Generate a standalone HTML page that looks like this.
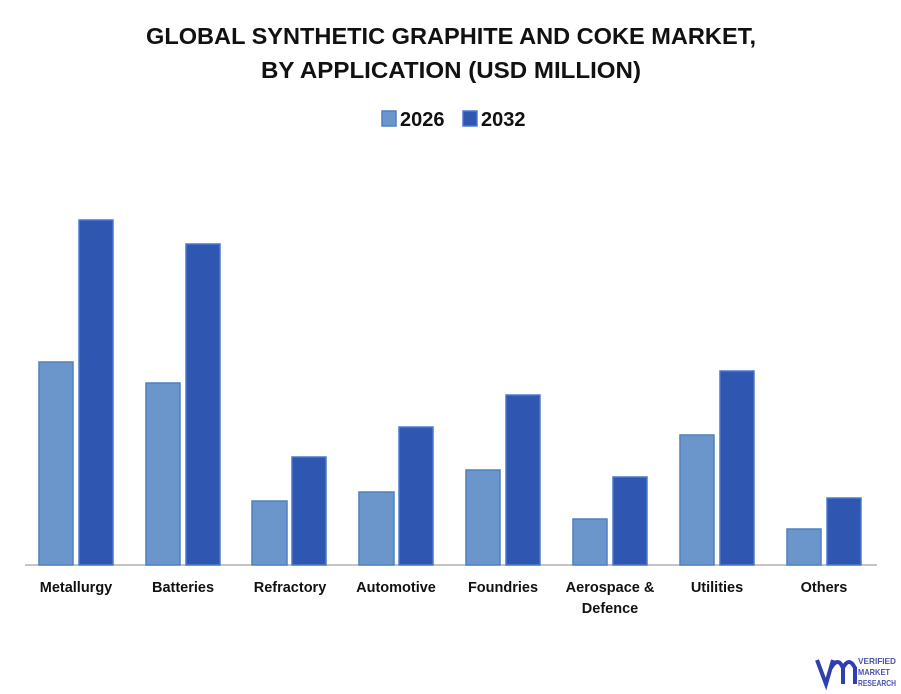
<!DOCTYPE html>
<html><head><meta charset="utf-8"><style>
html,body{margin:0;padding:0;background:#fff;}
svg{display:block;font-family:"Liberation Sans",sans-serif;}
.c{font-size:14.5px;font-weight:bold;fill:#111;text-anchor:middle;}
.a{fill:#6a96cb;stroke:#4f80c0;stroke-width:1.5;}
.b{fill:#2f56b0;stroke:#4a78cc;stroke-width:1.5;}
</style></head><body>
<svg width="901" height="694" viewBox="0 0 901 694">
<text x="451" y="44" font-size="23" font-weight="bold" text-anchor="middle" fill="#111" textLength="610" lengthAdjust="spacingAndGlyphs">GLOBAL SYNTHETIC GRAPHITE AND COKE MARKET,</text>
<text x="451" y="78" font-size="23" font-weight="bold" text-anchor="middle" fill="#111" textLength="380" lengthAdjust="spacingAndGlyphs">BY APPLICATION (USD MILLION)</text>
<rect x="382" y="111" width="14" height="15" class="a"/>
<text x="400" y="126" font-size="20" font-weight="bold" fill="#111">2026</text>
<rect x="463" y="111" width="14" height="15" class="b"/>
<text x="481" y="126" font-size="20" font-weight="bold" fill="#111">2032</text>
<line x1="25" y1="565" x2="877" y2="565" stroke="#a0a0a0" stroke-width="1.2"/>
<rect x="39" y="362" width="34" height="203" class="a"/>
<rect x="79" y="220" width="34" height="345" class="b"/>
<rect x="146" y="383" width="34" height="182" class="a"/>
<rect x="186" y="244" width="34" height="321" class="b"/>
<rect x="252" y="501" width="35" height="64" class="a"/>
<rect x="292" y="457" width="34" height="108" class="b"/>
<rect x="359" y="492" width="35" height="73" class="a"/>
<rect x="399" y="427" width="34" height="138" class="b"/>
<rect x="466" y="470" width="34" height="95" class="a"/>
<rect x="506" y="395" width="34" height="170" class="b"/>
<rect x="573" y="519" width="34" height="46" class="a"/>
<rect x="613" y="477" width="34" height="88" class="b"/>
<rect x="680" y="435" width="34" height="130" class="a"/>
<rect x="720" y="371" width="34" height="194" class="b"/>
<rect x="787" y="529" width="34" height="36" class="a"/>
<rect x="827" y="498" width="34" height="67" class="b"/>
<text class="c" x="76" y="592">Metallurgy</text>
<text class="c" x="183" y="592">Batteries</text>
<text class="c" x="290" y="592">Refractory</text>
<text class="c" x="396" y="592">Automotive</text>
<text class="c" x="503" y="592">Foundries</text>
<text class="c" x="610" y="592">Aerospace &amp;</text>
<text class="c" x="610" y="613">Defence</text>
<text class="c" x="717" y="592">Utilities</text>
<text class="c" x="824" y="592">Others</text>
<path d="M817 660 L826 684 L833 660 M831 668 Q838 656 843 668 L843 684 M843 668 Q849 656 855 668 L855 684" fill="none" stroke="#2f3fb0" stroke-width="4"/>
<text x="858" y="664" font-size="8.5" font-weight="bold" fill="#4b55b0" textLength="38" lengthAdjust="spacingAndGlyphs">VERIFIED</text>
<text x="858" y="675" font-size="8.5" font-weight="bold" fill="#4b55b0" textLength="32" lengthAdjust="spacingAndGlyphs">MARKET</text>
<text x="858" y="686" font-size="8.5" font-weight="bold" fill="#4b55b0" textLength="38" lengthAdjust="spacingAndGlyphs">RESEARCH</text>
</svg>
</body></html>
